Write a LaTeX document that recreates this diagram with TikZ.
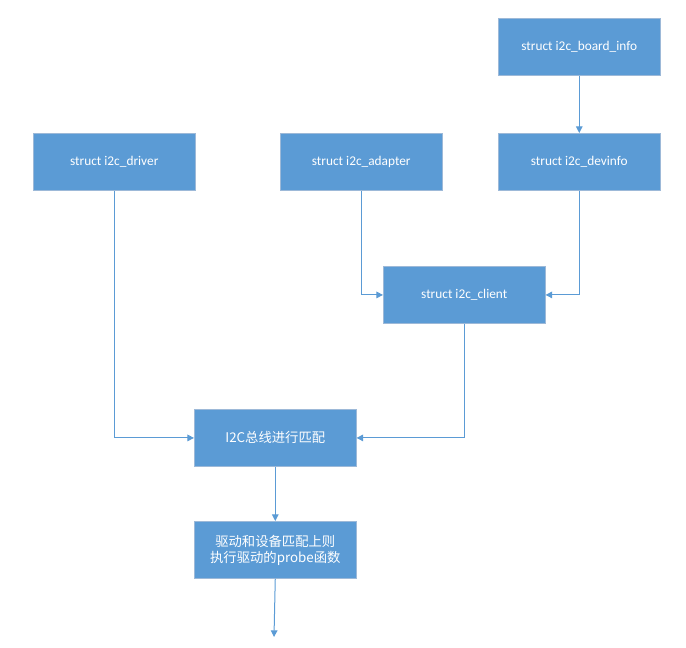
\documentclass[tikz,border=0pt]{standalone}
\usepackage{fontspec}
\setmainfont{Carlito}
\newfontfamily\cjk{Noto Sans CJK SC}
\usetikzlibrary{arrows.meta}
\definecolor{boxblue}{HTML}{5B9BD5}
\definecolor{boxedge}{HTML}{9DB9D8}
\definecolor{arr}{HTML}{5B9BD5}
\tikzset{
 box/.style={draw=boxedge, fill=boxblue, text=white, minimum width=121.5pt, minimum height=43pt, inner sep=0pt, font=\fontsize{10}{12}\selectfont, align=center, anchor=north west},
 conn/.style={draw=arr, line width=0.75pt, -{Triangle[length=5pt,width=5pt]}}
}
\begin{document}
\begin{tikzpicture}[x=0.75pt,y=-0.75pt]
\useasboundingbox (0,0) rectangle (686,648);
\node[box] (board) at (498,18) {struct i2c\_board\_info};
\node[box] (driver) at (33,133) {struct i2c\_driver};
\node[box] (adapter) at (280,133) {struct i2c\_adapter};
\node[box] (devinfo) at (498,133) {struct i2c\_devinfo};
\node[box] (client) at (383,266) {struct i2c\_client};
\node[box] (match) at (194,409) {{\cjk I2C总线进行匹配}};
\node[box] (probe) at (194,521) {{\cjk 驱动和设备匹配上则}\\{\cjk 执行驱动的probe函数}};
\coordinate (end) at (274,637);
\draw[conn] (board) -- (devinfo);
\draw[conn] (adapter.south) |- (client.west);
\draw[conn] (devinfo.south) |- (client.east);
\draw[conn] (driver.south) |- (match.west);
\draw[conn] (client.south) |- (match.east);
\draw[conn] (match) -- (probe);
\draw[conn] (probe.south) -- (end);
\end{tikzpicture}
\end{document}
